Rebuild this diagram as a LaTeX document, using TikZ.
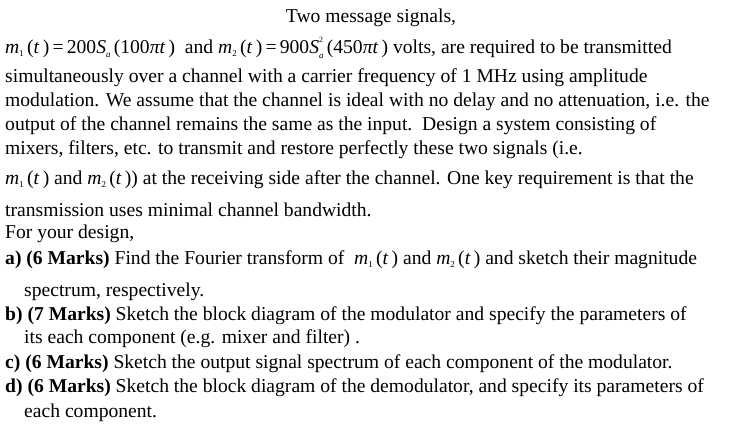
\documentclass[tikz,border=0pt]{standalone}
\usepackage{fontspec}
\setmainfont{Liberation Serif}
\begin{document}
\begin{tikzpicture}[x=1pt,y=-1pt,t/.style={anchor=west,inner sep=0pt,font=\fontsize{19.6}{22}\selectfont}]
\useasboundingbox (0,0) rectangle (742,428);
\newcommand{\mx}[1]{\textit{m}\raisebox{-0.35ex}{\fontsize{9}{10}\selectfont #1}\,(\textit{t}\,)}
\newcommand{\mi}{\mx{1}}
\newcommand{\mii}{\mx{2}}
\newcommand{\eqs}{\ =\ }
\newcommand{\Sa}{\textit{S}\raisebox{-0.5ex}{\fontsize{9}{10}\selectfont\textit{a}}\,}
\newcommand{\Sasq}{\textit{S}\makebox[0pt][l]{\raisebox{1.2ex}{\fontsize{8}{9}\selectfont 2}}\raisebox{-0.6ex}{\fontsize{9}{10}\selectfont\textit{a}}\,}
\node[t,anchor=center] (l0) at (371,18) {Two message signals,};
\node[t] (l1) at (5,48) {\mi\,=\,200\Sa(100\textit{πt}\,)\ \ and \mii\,=\,900\Sasq(450\textit{πt}\,) volts, are required to be transmitted};
\node[t] (l2) at (5,78) {simultaneously over a channel with a carrier frequency of 1 MHz using amplitude};
\node[t] (l3) at (5,102) {modulation. We assume that the channel is ideal with no delay and no attenuation, i.e. the};
\node[t] (l4) at (5,126) {output of the channel remains the same as the input.\ \ Design a system consisting of};
\node[t] (l5) at (5,150) {mixers, filters, etc. to transmit and restore perfectly these two signals (i.e.};
\node[t] (l6) at (5,180) {\mi\ and \mii) at the receiving side after the channel. One key requirement is that the};
\node[t] (l7) at (5,210) {transmission uses minimal channel bandwidth.};
\node[t] (l8) at (5,234) {For your design,};
\node[t] (l9) at (5,260) {\textbf{a) (6 Marks)} Find the Fourier transform of \ \mi\ and \mii\ and sketch their magnitude};
\node[t] (l10) at (24,292) {spectrum, respectively.};
\node[t] (l11) at (5,316) {\textbf{b) (7 Marks)} Sketch the block diagram of the modulator and specify the parameters of};
\node[t] (l12) at (24,339) {its each component (e.g. mixer and filter) .};
\node[t] (l13) at (5,364) {\textbf{c) (6 Marks)} Sketch the output signal spectrum of each component of the modulator.};
\node[t] (l14) at (5,388) {\textbf{d) (6 Marks)} Sketch the block diagram of the demodulator, and specify its parameters of};
\node[t] (l15) at (24,413) {each component.};
\end{tikzpicture}
\end{document}
